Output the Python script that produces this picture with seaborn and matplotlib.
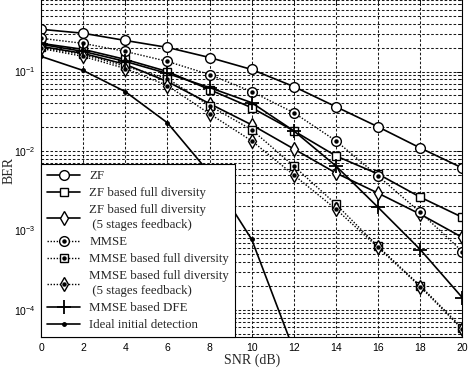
import numpy as np
import matplotlib
matplotlib.use("Agg")
import matplotlib.pyplot as plt
import seaborn as sns
from matplotlib.ticker import LogLocator, NullFormatter, MultipleLocator
from matplotlib.legend_handler import HandlerTuple

# SNR axis (dB)
snr_db = [0, 2, 4, 6, 8, 10, 12, 14, 16, 18, 20]

# BER curves
ber_zf = [0.340, 0.303, 0.246, 0.201, 0.150, 0.106, 0.0646, 0.0360, 0.0201, 0.0109, 0.0061]
ber_zf_full = [0.226, 0.190, 0.142, 0.100, 0.0592, 0.0350, 0.0179, 0.00865, 0.00512, 0.00262, 0.00146]
ber_zf_full5 = [0.207, 0.169, 0.123, 0.0747, 0.0394, 0.0213, 0.0106, 0.00527, 0.00294, 0.00160, 0.000815]
ber_mmse = [0.262, 0.226, 0.179, 0.134, 0.0916, 0.0558, 0.0303, 0.0134, 0.00483, 0.00169, 0.000542]
ber_mmse_full = [0.201, 0.164, 0.116, 0.0815, 0.0371, 0.0185, 0.00646, 0.00213, 0.000627, 0.000201, 0.000059]
ber_mmse_full5 = [0.195, 0.155, 0.109, 0.0665, 0.0294, 0.0134, 0.00497, 0.00185, 0.000610, 0.000195, 0.000057]
ber_mmse_dfe = [0.220, 0.179, 0.134, 0.0944, 0.0627, 0.0405, 0.0179, 0.00646, 0.00195, 0.000574, 0.000142]
snr_ideal = [0, 2, 4, 6, 8, 10, 12]
ber_ideal = [0.155, 0.103, 0.0558, 0.0226, 0.00527, 0.00077, 0.000031]

labels = [
    "ZF",
    "ZF based full diversity",
    "ZF based full diversity\n (5 stages feedback)",
    "MMSE",
    "MMSE based full diversity",
    "MMSE based full diversity\n (5 stages feedback)",
    "MMSE based DFE",
    "Ideal initial detection",
]

sns.set_theme(style="white")
plt.rcParams['font.family'] = ['Liberation Serif', 'DejaVu Serif']

fig = plt.figure(figsize=(4.74, 3.70), dpi=100)
ax = fig.add_axes([0.0865, 0.0892, 0.889, 0.916])

dotted = (0, (1, 1.2))
# (x, y, linestyle, marker, markersize, centre dot)
series = [
    (snr_db, ber_zf, "-", "o", 7, False),
    (snr_db, ber_zf_full, "-", "s", 6, False),
    (snr_db, ber_zf_full5, "-", "d", 7.5, False),
    (snr_db, ber_mmse, dotted, "o", 7, True),
    (snr_db, ber_mmse_full, dotted, "s", 6, True),
    (snr_db, ber_mmse_full5, dotted, "d", 7.5, True),
    (snr_db, ber_mmse_dfe, "-", "+", 10, False),
    (snr_ideal, ber_ideal, "-", ".", 5, False),
]

handles = []
for xs, ys, ls, mk, ms, centre in series:
    lw = 1.0 if ls == dotted else 1.2
    sns.lineplot(x=xs, y=ys, ax=ax, color="black", linestyle=ls, linewidth=lw,
                 marker=mk, markersize=ms, markerfacecolor="white",
                 markeredgecolor="black", markeredgewidth=1.0, legend=False)
    line = ax.lines[-1]
    if mk in ("+", "."):
        line.set_markerfacecolor("black")
        line.set_markeredgewidth(1.3 if mk == "+" else 1.0)
    if centre:
        sns.lineplot(x=xs, y=ys, ax=ax, color="black", linestyle="", marker="o",
                     markersize=3.2, markeredgewidth=0, legend=False)
        handles.append((line, ax.lines[-1]))
    else:
        handles.append(line)

ax.set_yscale("log")
ax.set_xlim(0, 20)
ax.set_ylim(4.55e-5, 0.84)
ax.xaxis.set_major_locator(MultipleLocator(2))
ax.yaxis.set_major_locator(LogLocator(base=10, numticks=10))
ax.yaxis.set_minor_locator(LogLocator(base=10, subs=np.arange(2, 10), numticks=20))
ax.yaxis.set_minor_formatter(NullFormatter())

grid_kw = dict(color="0.1", linestyle=(0, (2.5, 1.8)), linewidth=0.75)
ax.grid(True, which="major", axis="both", **grid_kw)
ax.grid(True, which="minor", axis="y", **grid_kw)
ax.set_axisbelow(True)

ax.tick_params(which="both", direction="in", top=True, right=True, colors="black",
               labelsize=7.5, labelfontfamily="Liberation Sans", pad=4)
ax.tick_params(which="major", length=4, width=0.6)
ax.tick_params(which="minor", length=2, width=0.5)
for sp in ax.spines.values():
    sp.set_color("black")
    sp.set_linewidth(0.8)

ax.set_xlabel("SNR (dB)", fontsize=10, labelpad=1)
ax.set_ylabel("BER", fontsize=10)
ax.yaxis.set_label_coords(-0.061, 0.49)

leg = ax.legend(handles, labels, loc="lower left", bbox_to_anchor=(0, 0),
                borderaxespad=0, fontsize=9.3, frameon=True, fancybox=False,
                framealpha=1, edgecolor="black", handlelength=2.6,
                handletextpad=0.7, labelspacing=0.38, borderpad=0.45,
                handler_map={tuple: HandlerTuple(ndivide=1)})
leg.get_frame().set_linewidth(0.8)
for t in leg.get_texts():
    t.set_linespacing(1.35)

fig.savefig("out.png", dpi=100)
